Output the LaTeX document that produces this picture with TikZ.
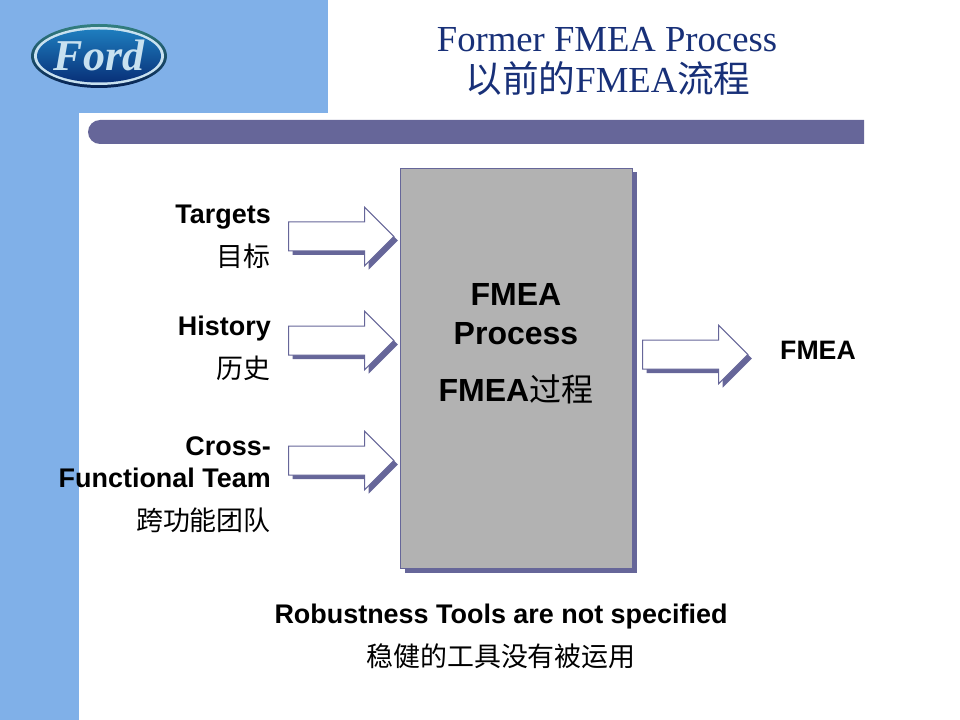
\documentclass[tikz,border=0pt]{standalone}
\usepackage{fontspec}
\setmainfont{Liberation Sans}
\newfontfamily\titlefont{Liberation Serif}
\newfontfamily\cjk{Noto Sans CJK SC}
\usetikzlibrary{%
        shadows,
        shapes.arrows
    }
\definecolor{sideblue}{RGB}{128, 176, 232}
\definecolor{barpurple}{RGB}{102, 102, 153}
\definecolor{boxgray}{RGB}{178, 178, 178}
\definecolor{titleblue}{RGB}{24, 48, 120}
\definecolor{logotop}{RGB}{30, 125, 190}
\definecolor{logobottom}{RGB}{8, 48, 120}
\definecolor{logoring}{RGB}{200, 225, 240}
\tikzset{
    shade offset/.style={drop shadow={shadow xshift=3pt, shadow yshift=-3pt,
        fill=barpurple, opacity=1}},
    inarrow/.style={draw=barpurple, fill=white, line width=0.75pt, shade offset,
        single arrow, minimum height=79pt, minimum width=42.5pt,
        single arrow head extend=11pt, inner xsep=0pt, inner ysep=10.5pt, anchor=west},
    lefttext/.style={font=\fontsize{20.2}{24}\selectfont\bfseries, align=right,
        anchor=base east, inner sep=0pt},
    leftcjk/.style={font=\fontsize{20.2}{24}\selectfont\cjk, anchor=east, inner sep=0pt},
    boxtext/.style={font=\fontsize{24}{29}\selectfont\bfseries, align=center, inner sep=0pt}
}

\begin{document}
\begin{tikzpicture}[x=0.75pt, y=-0.75pt]

    \useasboundingbox (0, 0) rectangle (960, 720);

    % background
    \fill[sideblue] (0, 0) rectangle (79, 720);
    \fill[sideblue] (0, 0) rectangle (328, 113);
    \fill[barpurple] (864, 120) -- (100, 120)
        arc[start angle=270, end angle=90, x radius=12, y radius=12] -- (864, 144) -- cycle;

    % logo
    \shade[top color=teal!60!gray, bottom color=logobottom!70!black]
        (99, 56) ellipse[x radius=68, y radius=32];
    \fill[logoring] (99, 56) ellipse[x radius=65, y radius=29];
    \shade[top color=logotop, bottom color=logobottom]
        (99, 56) ellipse[x radius=62, y radius=26.5];
    \node[font=\fontsize{33}{33}\selectfont\titlefont\bfseries\itshape, text=logoring,
        inner sep=0pt] (logotext) at (99, 55) {Ford};

    % title
    \node[font=\fontsize{27.5}{34}\selectfont\titlefont, text=titleblue, inner sep=0pt]
        (titleen) at (607, 40) {Former FMEA Process};
    \node[font=\fontsize{27.5}{34}\selectfont\titlefont, text=titleblue, inner sep=0pt]
        (titlezh) at (608, 79) {{\cjk 以前的}FMEA{\cjk 流程}};

    % main box
    \node[draw=barpurple, fill=boxgray, line width=0.75pt, shade offset, minimum width=174pt,
        minimum height=300.5pt, inner sep=0pt] (process) at (516.5, 368.5) {};
    \node[boxtext] (processen) at (516, 314) {FMEA\\Process};
    \node[boxtext] (processzh) at (516, 389) {FMEA{\cjk\mdseries 过程}};

    % arrows
    \node[inarrow] (targetsarrow) at (288, 236.5) {};
    \node[inarrow] (historyarrow) at (288, 340.5) {};
    \node[inarrow] (teamarrow) at (288, 460.5) {};
    \node[inarrow] (outarrow) at (642, 354.5) {};

    % labels
    \node[lefttext] (targets) at (271, 224) {Targets};
    \node[leftcjk] (targetszh) at (271, 256) {目标};
    \node[lefttext] (history) at (271, 335) {History};
    \node[leftcjk] (historyzh) at (271, 368) {历史};
    \node[lefttext] (team) at (271, 487) {Cross-\\Functional Team};
    \node[leftcjk] (teamzh) at (271, 520) {跨功能团队};
    \node[font=\fontsize{20}{24}\selectfont\bfseries, inner sep=0pt, anchor=base] (result)
        at (818, 359) {FMEA};

    % bottom text
    \node[font=\fontsize{20.2}{24}\selectfont\bfseries, inner sep=0pt, anchor=base] (tools)
        at (501, 623) {Robustness Tools are not specified};
    \node[font=\fontsize{20.2}{24}\selectfont\cjk, inner sep=0pt] (toolszh)
        at (501, 656) {稳健的工具没有被运用};

\end{tikzpicture}
\end{document}
